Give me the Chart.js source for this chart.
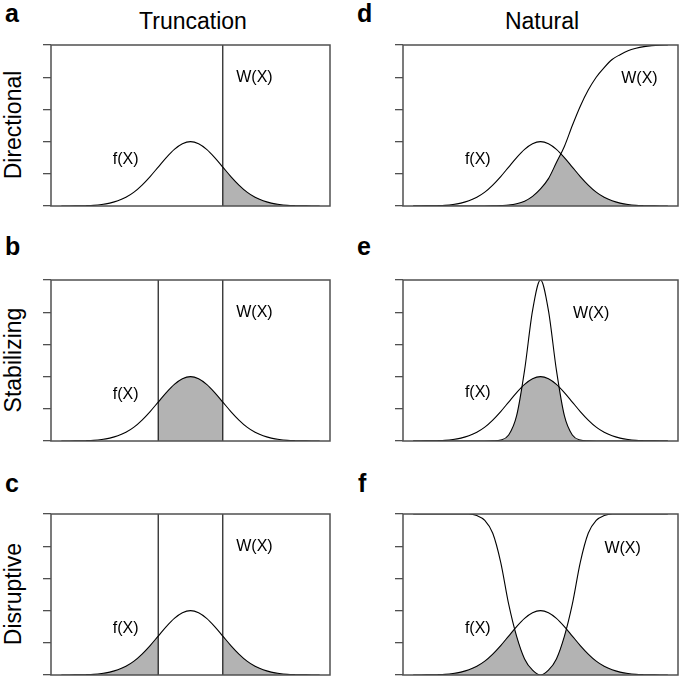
<!DOCTYPE html>
<html>
<head>
<meta charset="utf-8">
<script src="https://cdn.jsdelivr.net/npm/chart.js@4"></script>
<style>
  body { margin: 0; background: #fff; }
  #fig { position: relative; width: 685px; height: 679px; background: #fff;
         font-family: "Liberation Sans", Arial, sans-serif; color: #000; }
  #fig canvas { position: absolute; }
  .t { position: absolute; white-space: nowrap; }
</style>
</head>
<body>
<div id="fig"></div>
<script>
// x grid shared by all curves
const xs = [-4,-3.75,-3.5,-3.25,-3,-2.75,-2.5,-2.25,-2,-1.75,-1.5,-1.25,-1,-0.75,-0.5,-0.25,0,
            0.25,0.5,0.75,1,1.25,1.5,1.75,2,2.25,2.5,2.75,3,3.25,3.5,3.75,4];

// trait distribution f(X), same in every panel
const fX = [0,0,0.001,0.002,0.004,0.009,0.018,0.032,0.054,0.086,0.130,0.183,0.242,0.301,0.352,0.387,0.400,
            0.387,0.352,0.301,0.242,0.183,0.130,0.086,0.054,0.032,0.018,0.009,0.004,0.002,0.001,0,0];

// natural selection fitness W(X)
const wDirectional = [0,0,0,0,0,0,0,0,0,0,0.001,0.003,0.006,0.014,0.030,0.060,0.106,
                      0.170,0.270,0.370,0.500,0.620,0.720,0.800,0.860,0.910,0.940,0.965,0.980,0.990,0.996,0.999,1];
const wStabilizing = [0,0,0,0,0,0,0,0,0,0,0.001,0.006,0.037,0.157,0.440,0.810,1,
                      0.810,0.440,0.157,0.037,0.006,0.001,0,0,0,0,0,0,0,0,0,0];
const wDisruptive  = [1,1,1,1,1,1,1,1,0.99,0.96,0.88,0.70,0.44,0.24,0.10,0.03,0,
                      0.03,0.10,0.24,0.44,0.70,0.88,0.96,0.99,1,1,1,1,1,1,1,1];

// truncation thresholds and the ranges where W(X) = 1
const cutsDirectional = [1];
const cutsStabilizing = [-1, 1];
const cutsDisruptive  = [-1, 1];
const keepDirectional = [[1, 4]];
const keepStabilizing = [[-1, 1]];
const keepDisruptive  = [[-4, -1], [1, 4]];

const yTicks = [0, 0.2, 0.4, 0.6, 0.8, 1];

const fig = document.getElementById('fig');
const GREY = '#b3b3b3';

function pts(X, Y) { return X.map((x, i) => ({ x, y: Y[i] })); }

function curve(data) {
  return { data, borderColor: '#000', borderWidth: 1.1, fill: false,
           cubicInterpolationMode: 'monotone', pointRadius: 0, order: 1 };
}
function area(data, fill, color, order) {
  return { data, borderWidth: 0, borderColor: 'rgba(0,0,0,0)', backgroundColor: color,
           fill, cubicInterpolationMode: 'monotone', pointRadius: 0, order };
}
function cut(x) {
  return { data: [{ x, y: 0 }, { x, y: 1 }], borderColor: '#000', borderWidth: 1.1,
           pointRadius: 0, tension: 0, order: 1 };
}
function truncated(cuts, keep) {
  const f = pts(xs, fX);
  return [
    ...keep.map(([lo, hi]) => area(f.filter(p => p.x >= lo && p.x <= hi), 'origin', GREY, 5)),
    curve(f),
    ...cuts.map(cut)
  ];
}
// grey under f, then white where f lies above W -> grey is left under both curves
function natural(w) {
  const f = pts(xs, fX);
  return [
    curve(f),
    curve(pts(xs, w)),
    area(f, 'origin', GREY, 10),
    area(f, { target: 1, above: '#ffffff', below: 'rgba(0,0,0,0)' }, 'rgba(0,0,0,0)', 9)
  ];
}

const frame = {
  id: 'frame',
  afterDraw(c) {
    const { ctx, chartArea: a } = c;
    ctx.save();
    ctx.strokeStyle = '#505050';
    ctx.lineWidth = 1.5;
    ctx.strokeRect(a.left, a.top, a.right - a.left, a.bottom - a.top);
    ctx.restore();
  }
};

const curveLabels = {
  id: 'curveLabels',
  afterDatasetsDraw(c, args, opts) {
    const { ctx, scales: { x, y } } = c;
    ctx.save();
    ctx.fillStyle = '#000';
    ctx.font = '16px "Liberation Sans", Arial, sans-serif';
    ctx.textAlign = 'center';
    ctx.textBaseline = 'middle';
    opts.items.forEach(([txt, px, py]) => ctx.fillText(txt, x.getPixelForValue(px), y.getPixelForValue(py)));
    ctx.restore();
  }
};

function panel(box, datasets, labels) {
  const [L, T, R, B] = box;
  const cv = document.createElement('canvas');
  cv.width = R - L + 16;
  cv.height = B - T + 8;
  cv.style.left = (L - 12) + 'px';
  cv.style.top = (T - 4) + 'px';
  fig.appendChild(cv);
  new Chart(cv, {
    type: 'line',
    data: { datasets },
    options: {
      responsive: false, animation: false, devicePixelRatio: 1,
      layout: { padding: { left: 4, right: 4, top: 4, bottom: 4 } },
      plugins: { legend: { display: false }, tooltip: { enabled: false }, curveLabels: { items: labels } },
      scales: {
        x: { type: 'linear', min: -4.32, max: 4.32, display: false },
        y: {
          min: 0, max: 1,
          afterBuildTicks: s => { s.ticks = yTicks.map(v => ({ value: v })); },
          ticks: { display: false },
          grid: { drawOnChartArea: false, drawTicks: true, tickLength: 8, color: '#505050', lineWidth: 1.3 },
          border: { display: false }
        }
      }
    },
    plugins: [frame, curveLabels]
  });
}

// left column: truncation selection
panel([51, 45, 330, 206], truncated(cutsDirectional, keepDirectional),
      [['f(X)', -2.01, 0.29], ['W(X)', 1.98, 0.80]]);
panel([51, 280, 330, 441], truncated(cutsStabilizing, keepStabilizing),
      [['f(X)', -2.01, 0.29], ['W(X)', 1.98, 0.795]]);
panel([51, 514, 330, 675], truncated(cutsDisruptive, keepDisruptive),
      [['f(X)', -2.01, 0.29], ['W(X)', 1.98, 0.795]]);

// right column: natural selection
panel([403, 45, 678, 206], natural(wDirectional),
      [['f(X)', -1.97, 0.29], ['W(X)', 3.11, 0.79]]);
panel([403, 280, 678, 441], natural(wStabilizing),
      [['f(X)', -1.97, 0.30], ['W(X)', 1.59, 0.79]]);
panel([403, 514, 678, 675], natural(wDisruptive),
      [['f(X)', -1.97, 0.29], ['W(X)', 2.58, 0.785]]);

// text around the panels
function text(s, x, base, size, bold, center) {
  const d = document.createElement('div');
  d.className = 't';
  d.textContent = s;
  d.style.fontSize = size + 'px';
  d.style.lineHeight = size + 'px';
  d.style.fontWeight = bold ? 'bold' : 'normal';
  d.style.left = x + 'px';
  d.style.top = (base - 0.8465 * size) + 'px';
  if (center) d.style.transform = 'translateX(-50%)';
  fig.appendChild(d);
}
function sideText(s, cx, cy, size) {
  const d = document.createElement('div');
  d.className = 't';
  d.textContent = s;
  d.style.fontSize = size + 'px';
  d.style.lineHeight = size + 'px';
  d.style.left = cx + 'px';
  d.style.top = cy + 'px';
  d.style.transform = 'translate(-50%, -50%) rotate(-90deg)';
  fig.appendChild(d);
}

text('Truncation', 193, 29, 23, false, true);
text('Natural', 542, 29, 23, false, true);
[['a', 5, 22.5], ['b', 5, 255], ['c', 5, 492], ['d', 357, 22.5], ['e', 357, 255], ['f', 358, 492]]
  .forEach(([s, x, y]) => text(s, x, y, 25, true, false));
sideText('Directional', 13, 124.5, 23);
sideText('Stabilizing', 13, 360, 23);
sideText('Disruptive', 13, 594, 23);
</script>
</body>
</html>
